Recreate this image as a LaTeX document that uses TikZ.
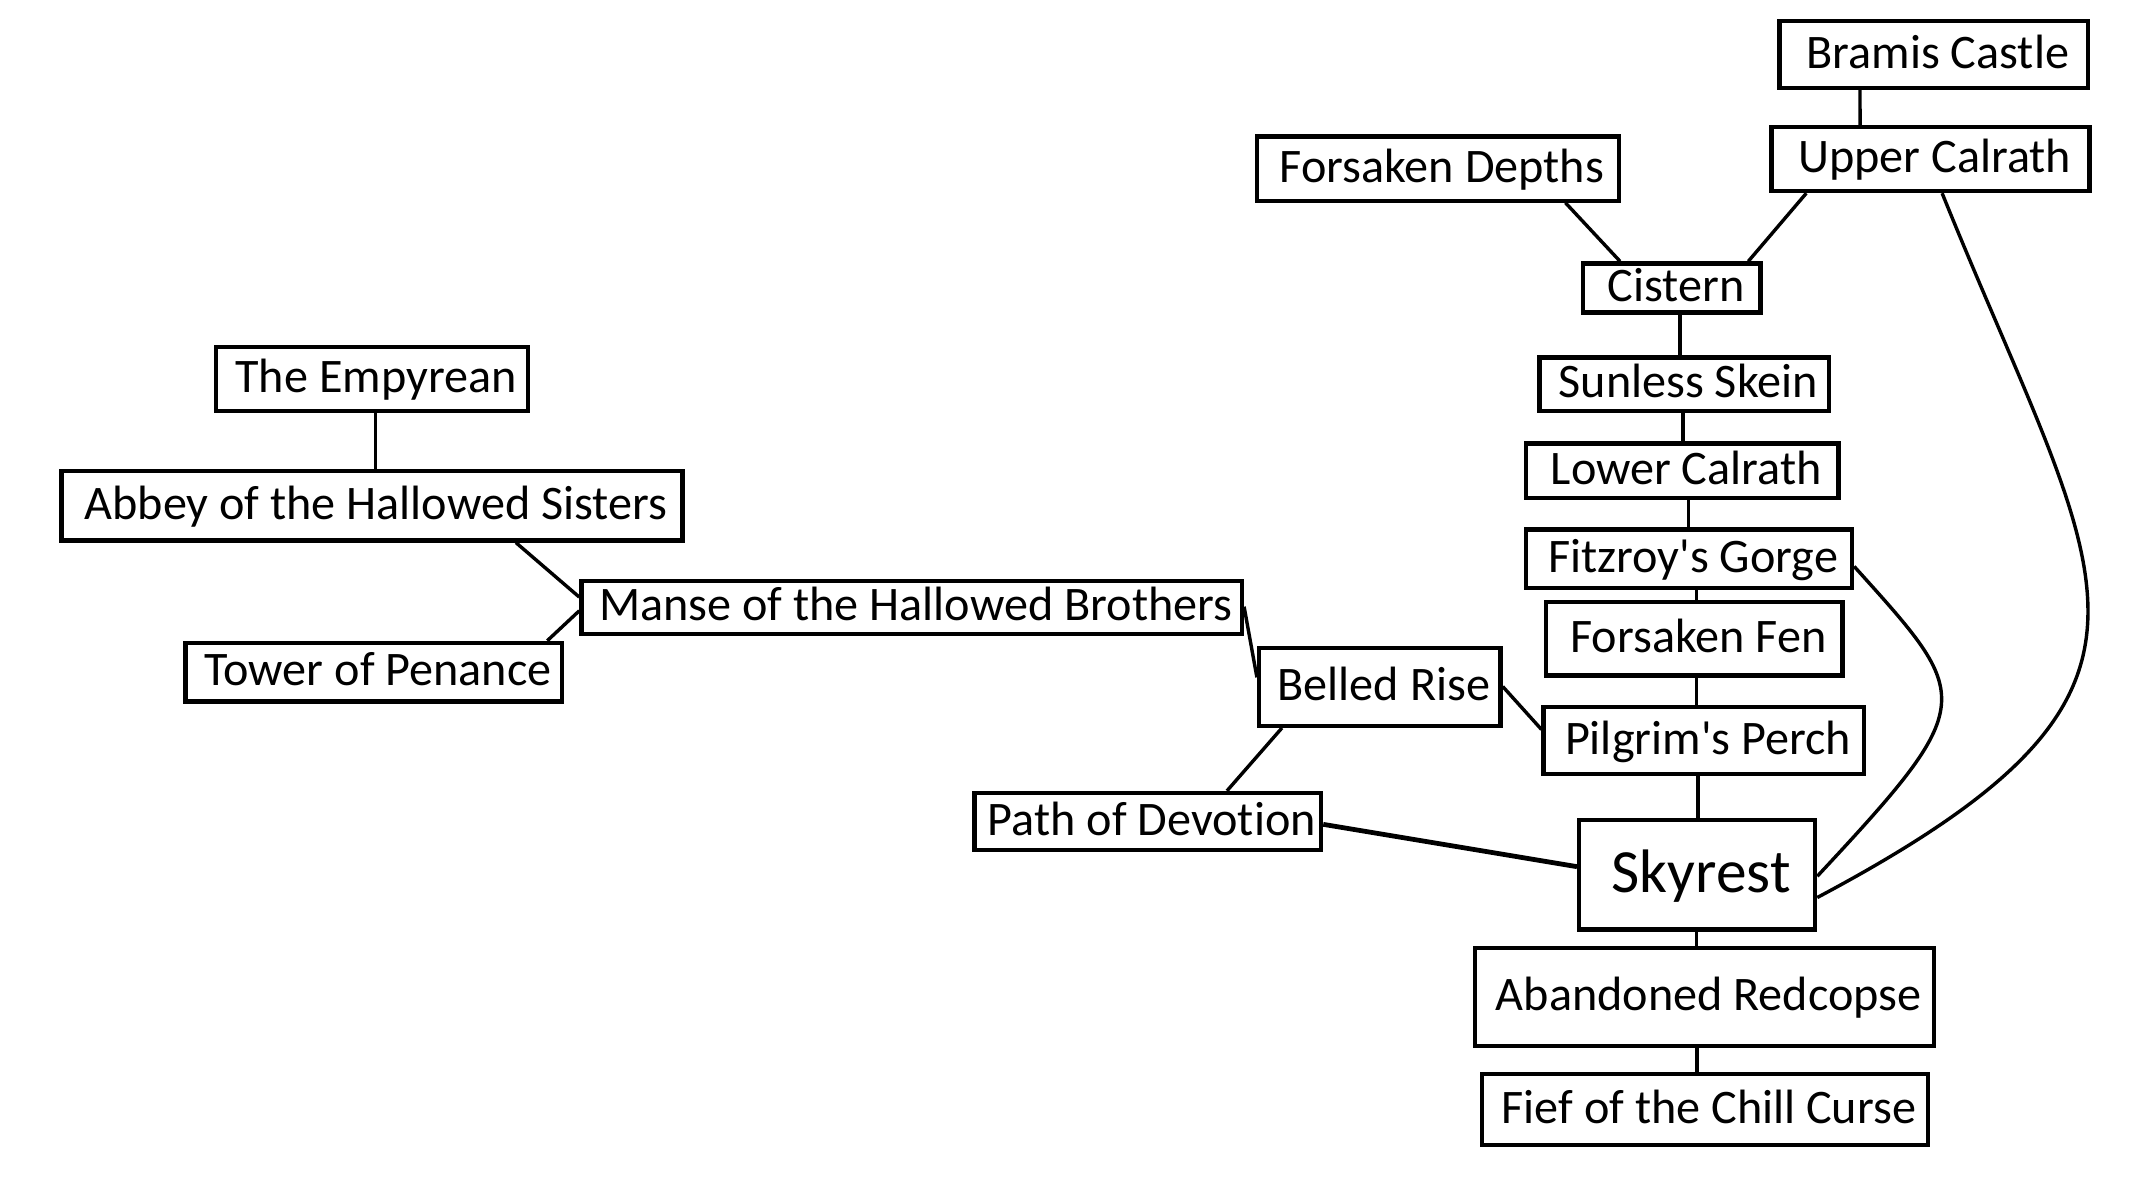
\documentclass[tikz,border=0pt]{standalone}
\usepackage{fontspec}
\setmainfont{Carlito}[Ligatures={TeXOff,NoCommon}]
\usetikzlibrary{calc}
\begin{document}
\begin{tikzpicture}[x=1pt,y=-1pt,
  place/.style={draw, line width=3.1pt, inner sep=0pt, font=\fontsize{35.3}{42}\selectfont, text height=24pt, text depth=4pt, execute at begin node=\hspace*{6pt}},
  bigplace/.style={place, font=\fontsize{45}{54}\selectfont, text height=31pt, text depth=5pt},
  link/.style={line width=2.5pt}]
\fill[white] (0,0) rectangle (1568,876.3);
\useasboundingbox (0,0) rectangle (1568,876.3);
% nodes
\node[place, minimum width=226pt, minimum height=49pt] (bramis) at (1416.8,39.9) {Bramis Castle};
\node[place, minimum width=233pt, minimum height=47pt] (upper) at (1414.5,116.5) {Upper Calrath};
\node[place, minimum width=265pt, minimum height=47pt] (fdepths) at (1053.5,123.5) {Forsaken Depths};
\node[place, minimum width=130pt, minimum height=36pt] (cistern) at (1225,211) {Cistern};
\node[place, minimum width=212pt, minimum height=39pt] (sunless) at (1234,281.5) {Sunless Skein};
\node[place, minimum width=229pt, minimum height=40pt] (lower) at (1232.5,345) {Lower Calrath};
\node[place, minimum width=239pt, minimum height=43pt] (fitzroy) at (1237.5,409.5) {Fitzroy's Gorge};
\node[place, minimum width=217pt, minimum height=54pt] (fen) at (1241.5,468) {Forsaken Fen};
\node[place, minimum width=235pt, minimum height=49pt] (pilgrim) at (1248.5,542.5) {Pilgrim's Perch};
\node[bigplace, minimum width=173pt, minimum height=80pt] (skyrest) at (1243.5,641) {Skyrest};
\node[place, minimum width=336pt, minimum height=72pt] (abandoned) at (1249,730.5) {Abandoned Redcopse};
\node[place, minimum width=327pt, minimum height=52pt] (fief) at (1249.2,813) {Fief of the Chill Curse};
\node[place, minimum width=177pt, minimum height=57pt] (belled) at (1011,503.3) {Belled Rise};
\node[place, minimum width=254pt, minimum height=42pt] (path) at (841,602) {Path of Devotion};
\node[place, minimum width=484pt, minimum height=39pt] (manse) at (668,445) {Manse of the Hallowed Brothers};
\node[place, minimum width=455pt, minimum height=51pt] (abbey) at (272.5,370.5) {Abbey of the Hallowed Sisters};
\node[place, minimum width=229pt, minimum height=47pt] (empyrean) at (272.5,277.5) {The Empyrean};
\node[place, minimum width=276pt, minimum height=43pt] (tower) at (274,492.5) {Tower of Penance};
% connectors
\draw[link] ([xshift=-54pt]bramis.south) -- ([xshift=-51.6pt]upper.north);
\draw[link] ([xshift=-91pt]upper.south) -- ([xshift=56pt]cistern.north);
\draw[link] ([xshift=93.5pt]fdepths.south) -- ([xshift=-38pt]cistern.north);
\draw[link] ([xshift=6pt]cistern.south) -- ([xshift=-3pt]sunless.north);
\draw[link] ([xshift=-1pt]sunless.south) -- ([xshift=0.5pt]lower.north);
\draw[link] ([xshift=4.5pt]lower.south) -- ([xshift=-0.5pt]fitzroy.north);
\draw[link] ([xshift=5.5pt]fitzroy.south) -- ([xshift=1.5pt]fen.north);
\draw[link] ([xshift=1.5pt]fen.south) -- ([xshift=-5.5pt]pilgrim.north);
\draw[link] ([xshift=-4.5pt]pilgrim.south) -- ([xshift=0.5pt]skyrest.north);
\draw[link] ([xshift=-0.5pt]skyrest.south) -- ([xshift=-6pt]abandoned.north);
\draw[link] ([xshift=-5.7pt]abandoned.south) -- ([xshift=-5.9pt]fief.north);
\draw[link] ([yshift=-5.5pt]fitzroy.east) to[out=-48, in=47, out distance=130pt, in distance=175pt] ([yshift=-1pt]skyrest.east);
\draw[link] ([xshift=8.5pt]upper.south) to[out=-68, in=28, out distance=313pt, in distance=328pt] ([yshift=-16.6pt]skyrest.east);
\draw[link] ([yshift=0.3pt]belled.east) -- ([yshift=8pt]pilgrim.west);
\draw[link] ([xshift=-71.7pt]belled.south) -- ([xshift=58pt]path.north);
\draw[link, line width=3.5pt] ([yshift=-2pt]path.east) -- ([yshift=6pt]skyrest.west);
\draw[link] ([yshift=0.5pt]manse.east) -- ([yshift=7pt]belled.west);
\draw[link] ([xshift=105.5pt]abbey.south) -- ([yshift=7.5pt]manse.west);
\draw[link] ([xshift=127pt]tower.north) -- ([yshift=-2.5pt]manse.west);
\draw[link] ([xshift=2.5pt]empyrean.south) -- ([xshift=2.5pt]abbey.north);
\end{tikzpicture}
\end{document}
